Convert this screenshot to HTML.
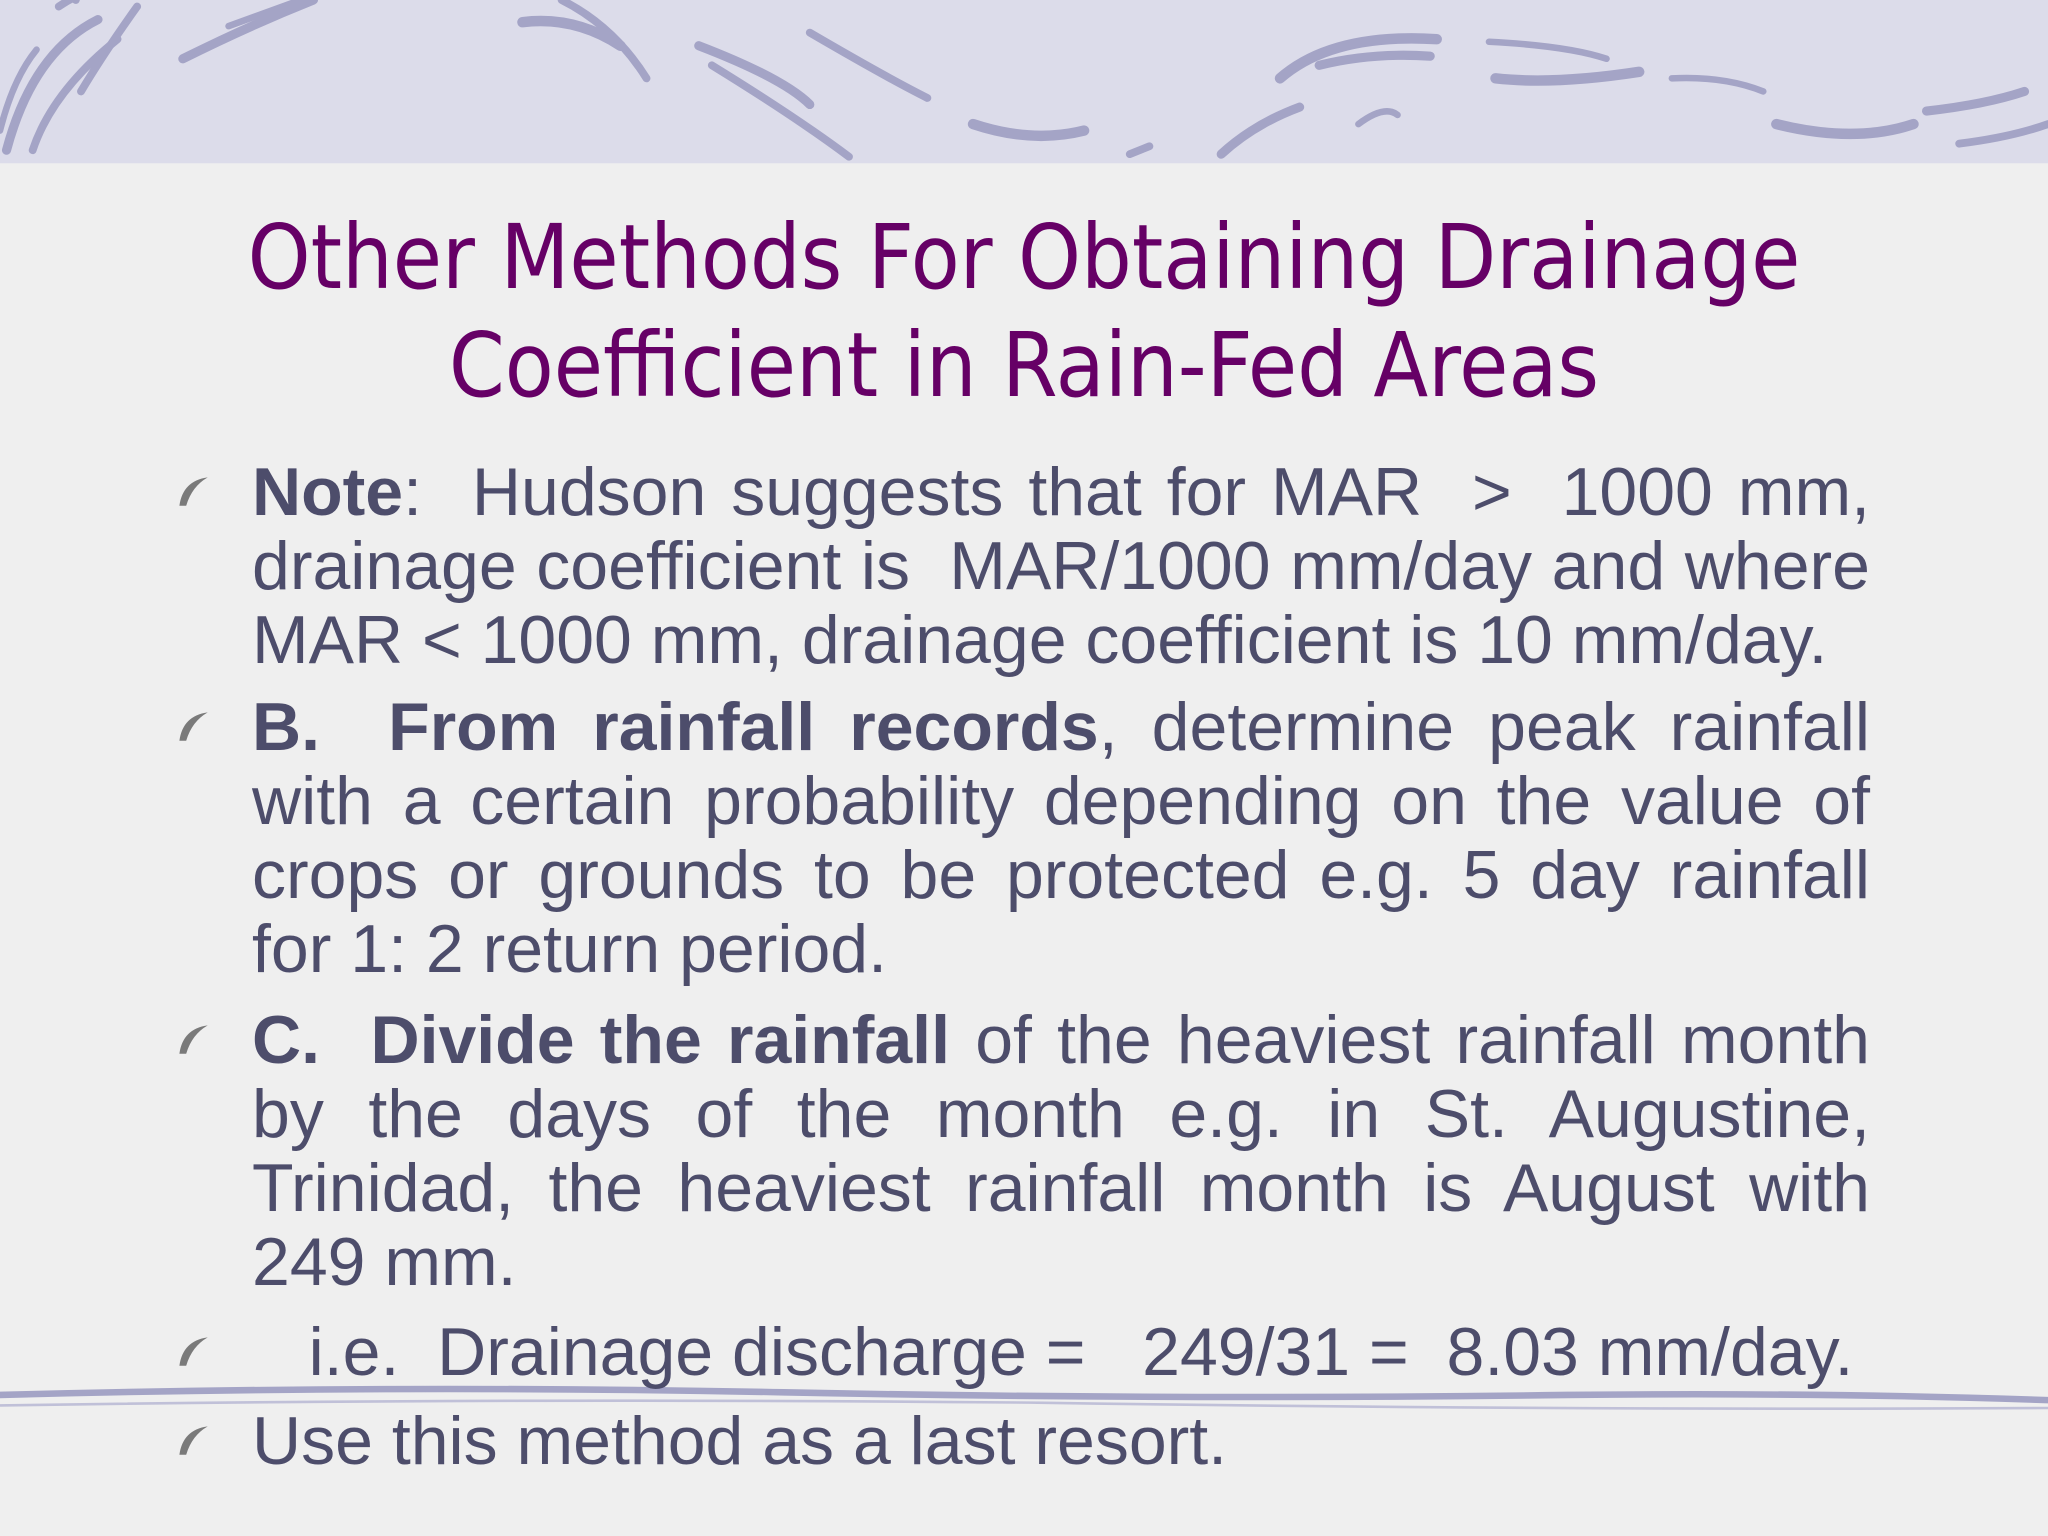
<!DOCTYPE html>
<html><head><meta charset="utf-8"><style>
html,body{margin:0;padding:0}
body{width:2048px;height:1536px;position:relative;overflow:hidden;background:#efefef;font-family:"Liberation Sans",Arial,sans-serif}
svg.deco{position:absolute;left:0;top:0}
.title{position:absolute;left:0;width:2048px;text-align:center;color:#660066;font-size:89px;line-height:108px;font-family:"DejaVu Sans Condensed","Liberation Sans",sans-serif}
.p{position:absolute;left:252px;width:1618px;color:#4d4d6b;font-size:68px;line-height:74px;text-align:justify;text-align-last:left}
.j{text-align-last:justify;white-space:nowrap}
.b{position:absolute;width:34px;height:34px}
</style></head><body>
<svg class="deco" width="2048" height="1536" viewBox="0 0 1568 1176">
<rect x="0" y="0" width="1568" height="125" fill="#dcdcea"/>
<g fill="none" stroke="#a4a4c6" stroke-linecap="round">
<path d="M45 5 Q60 -5 58 0" stroke-width="6"/>
<path d="M5 115 Q25 40 75 15" stroke-width="7"/>
<path d="M25 115 Q40 70 90 30" stroke-width="6"/>
<path d="M0 100 Q10 60 28 38" stroke-width="5"/>
<path d="M62 70 Q80 40 105 5" stroke-width="6"/>
<path d="M140 45 Q190 20 240 0" stroke-width="7"/>
<path d="M175 20 L230 0" stroke-width="5"/>
<path d="M400 17 Q440 12 475 35" stroke-width="8"/>
<path d="M430 0 Q470 20 495 60" stroke-width="6"/>
<path d="M535 35 Q600 60 620 80" stroke-width="7"/>
<path d="M545 50 Q610 90 650 120" stroke-width="6"/>
<path d="M620 25 Q680 60 710 75" stroke-width="6"/>
<path d="M745 95 Q790 110 830 100" stroke-width="8"/>
<path d="M865 118 L880 112" stroke-width="6"/>
<path d="M935 118 Q960 95 995 82" stroke-width="7"/>
<path d="M980 60 Q1020 25 1100 30" stroke-width="8"/>
<path d="M1010 50 Q1050 40 1095 43" stroke-width="7"/>
<path d="M1040 95 Q1060 80 1070 88" stroke-width="5"/>
<path d="M1145 60 Q1190 65 1255 55" stroke-width="8"/>
<path d="M1140 32 Q1200 35 1230 45" stroke-width="5"/>
<path d="M1280 60 Q1320 58 1350 70" stroke-width="5"/>
<path d="M1360 95 Q1420 110 1465 95" stroke-width="8"/>
<path d="M1475 85 Q1520 80 1550 70" stroke-width="7"/>
<path d="M1500 110 Q1540 105 1568 95" stroke-width="6"/>
<path d="M0 1068 Q300 1060 600 1066 Q900 1072 1200 1068 Q1400 1066 1568 1072" stroke-width="5"/>
<path d="M0 1076 Q400 1070 800 1074 Q1200 1080 1568 1078" stroke-width="2" stroke="#c0c0d8"/>
</g>
</svg>
<div class="title" style="top:203px">Other Methods For Obtaining Drainage<br>Coefficient in Rain-Fed Areas</div>

<svg class="b" style="left:176px;top:474px" viewBox="0 0 30 30"><path d="M3 28 Q6 6 28 3 Q14 11 9 28Z" fill="#7a7a7a"/></svg>
<div class="p" style="top:455px"><b>Note</b>:&nbsp; Hudson suggests that for MAR &nbsp;&gt;&nbsp; 1000 mm, drainage coefficient is &nbsp;MAR/1000 mm/day and where MAR &lt; 1000 mm, drainage coefficient is 10 mm/day.</div>

<svg class="b" style="left:176px;top:709px" viewBox="0 0 30 30"><path d="M3 28 Q6 6 28 3 Q14 11 9 28Z" fill="#7a7a7a"/></svg>
<div class="p" style="top:690px"><div class="j"><b>B.&nbsp; From rainfall records</b>, determine peak rainfall</div><div class="j">with a certain probability depending on the value of</div><div class="j">crops or grounds to be protected e.g. 5 day rainfall</div><div>for 1: 2 return period.</div></div>

<svg class="b" style="left:176px;top:1022px" viewBox="0 0 30 30"><path d="M3 28 Q6 6 28 3 Q14 11 9 28Z" fill="#7a7a7a"/></svg>
<div class="p" style="top:1003px"><b>C.&nbsp; Divide the rainfall</b> of the heaviest rainfall month by the days of the month e.g. in St. Augustine, Trinidad, the heaviest rainfall month is August with 249 mm.</div>

<svg class="b" style="left:176px;top:1334px" viewBox="0 0 30 30"><path d="M3 28 Q6 6 28 3 Q14 11 9 28Z" fill="#7a7a7a"/></svg>
<div class="p" style="top:1315px">&nbsp;&nbsp; i.e.&nbsp; Drainage discharge = &nbsp; 249/31 = &nbsp;8.03 mm/day.</div>

<svg class="b" style="left:176px;top:1423px" viewBox="0 0 30 30"><path d="M3 28 Q6 6 28 3 Q14 11 9 28Z" fill="#7a7a7a"/></svg>
<div class="p" style="top:1404px">Use this method as a last resort.</div>
</body></html>
